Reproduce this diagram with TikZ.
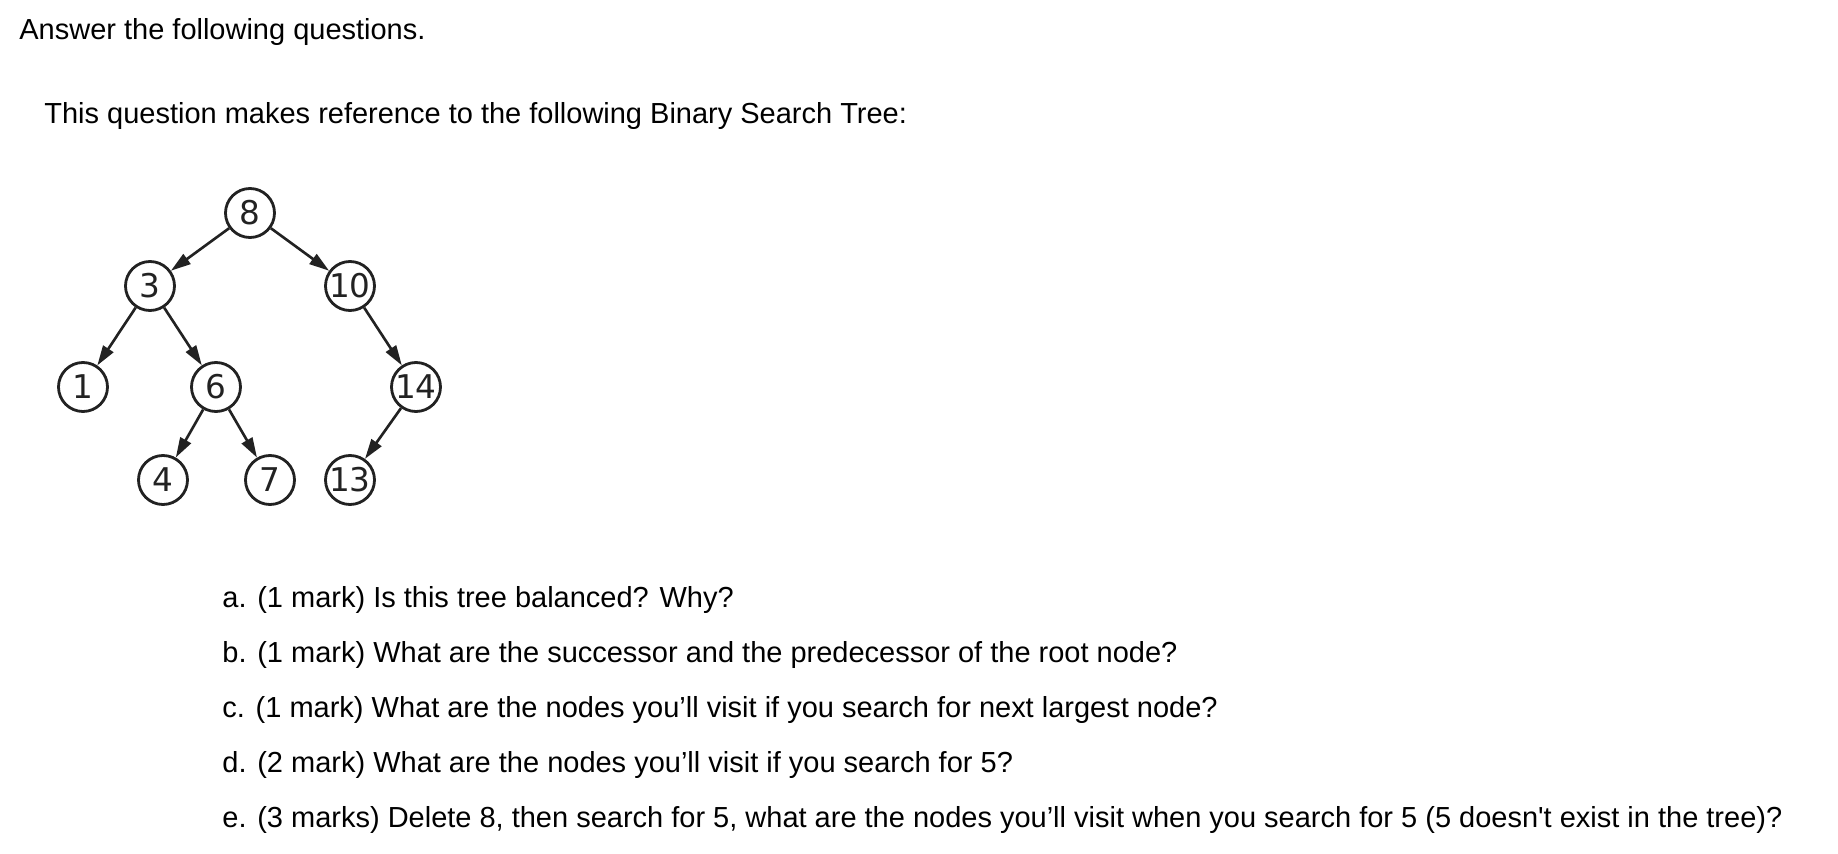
\documentclass[tikz,border=0pt]{standalone}
\usepackage{fontspec}
\setmainfont{Liberation Sans}[Ligatures=TeXOff]
\newfontfamily\treefont{DejaVu Sans}
\usepackage{tikz}
\usetikzlibrary{arrows.meta, positioning}

\definecolor{treegray}{RGB}{34,34,34}

\begin{document}
\begin{tikzpicture}[
    x = 0.02cm, y = -0.02cm,
    every node/.style = {circle, draw=treegray, line width=1.6pt,
    minimum size=0.98cm, inner sep=0pt, text=treegray,
    font=\treefont\fontsize{18.6}{20}\selectfont},
    arc/.style = {draw=treegray, line width=1.5pt,
    -{Triangle[length=0.4cm,width=0.24cm]}},
    lbl/.style = {rectangle, draw=none, anchor=base west, inner sep=0pt,
    text=black, font=\fontsize{16.5}{20}\selectfont}
    ]
    \useasboundingbox (0,0) rectangle (1838,854);
    %
    \node (head) [lbl] at (18,40) {Answer the following questions.};
    \node (intro) [lbl] at (43,124) {This question makes reference to the following Binary Search Tree:};
    %
    \node (n8)  at (250,213) {8};
    \node (n3)  at (150,286) {3};
    \node (n10) at (350,286) {10};
    \node (n1)  at (83,387)  {1};
    \node (n6)  at (216,387) {6};
    \node (n14) at (416,387) {14};
    \node (n4)  at (163,480) {4};
    \node (n7)  at (270,480) {7};
    \node (n13) at (350,480) {13};
    %
    \draw[arc] (n8) -- (n3);
    \draw[arc] (n8) -- (n10);
    \draw[arc] (n3) -- (n1);
    \draw[arc] (n3) -- (n6);
    \draw[arc] (n10) -- (n14);
    \draw[arc] (n6) -- (n4);
    \draw[arc] (n6) -- (n7);
    \draw[arc] (n14) -- (n13);
    %
    \node (qa) [lbl] at (221,607) {a. (1 mark) Is this tree balanced? Why?};
    \node (qb) [lbl] at (221,662) {b. (1 mark) What are the successor and the predecessor of the root node?};
    \node (qc) [lbl] at (221,717) {c. (1 mark) What are the nodes you’ll visit if you search for next largest node?};
    \node (qd) [lbl] at (221,772) {d. (2 mark) What are the nodes you’ll visit if you search for 5?};
    \node (qe) [lbl] at (221,827) {e. (3 marks) Delete 8, then search for 5, what are the nodes you’ll visit when you search for 5 (5 doesn't exist in the tree)?};
\end{tikzpicture}
\end{document}
